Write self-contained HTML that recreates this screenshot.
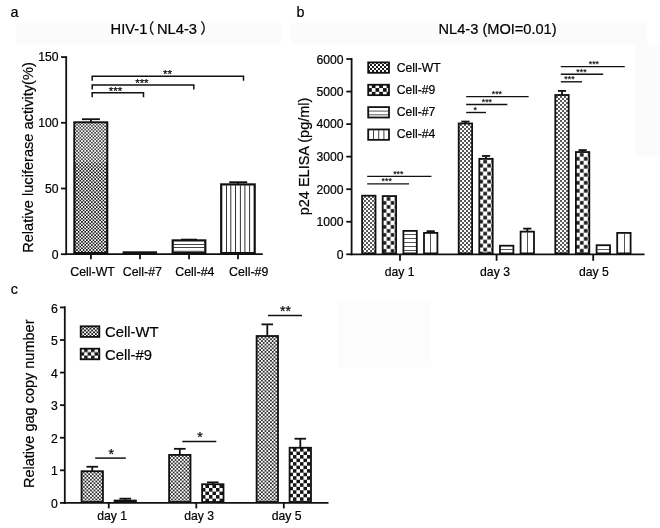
<!DOCTYPE html>
<html><head><meta charset="utf-8"><style>
html,body{margin:0;padding:0;background:#fff;width:660px;height:528px;overflow:hidden}
svg{display:block}
text{font-family:"Liberation Sans","Noto Sans CJK SC",Arial,sans-serif;fill:#000;stroke:#000;stroke-width:0.2px}
</style></head><body>
<svg width="660" height="528" viewBox="0 0 660 528">
<defs>
<pattern id="dotsA" patternUnits="userSpaceOnUse" x="74.5" y="0" width="3.3" height="3.3"><rect width="3.3" height="3.3" fill="#fff"/><rect x="0.000" y="0.000" width="1.65" height="1.65" fill="#1a1a1a"/><rect x="1.650" y="1.650" width="1.65" height="1.65" fill="#1a1a1a"/></pattern>
<pattern id="dotsA2" patternUnits="userSpaceOnUse" x="74.5" y="0" width="3.3" height="3.3"><rect width="3.3" height="3.3" fill="#fff"/><rect x="0.075" y="0.075" width="1.5" height="1.5" fill="#1a1a1a"/><rect x="1.725" y="1.725" width="1.5" height="1.5" fill="#1a1a1a"/></pattern>
<pattern id="dotsB" patternUnits="userSpaceOnUse" x="0" y="0" width="4.0" height="4.0"><rect width="4.0" height="4.0" fill="#fff"/><rect x="0.150" y="0.150" width="1.7" height="1.7" fill="#1a1a1a"/><rect x="2.150" y="2.150" width="1.7" height="1.7" fill="#1a1a1a"/></pattern>
<pattern id="dotsBL" patternUnits="userSpaceOnUse" x="368" y="62" width="4.0" height="4.0"><rect width="4.0" height="4.0" fill="#fff"/><rect x="0.000" y="0.000" width="2.0" height="2.0" fill="#1a1a1a"/><rect x="2.000" y="2.000" width="2.0" height="2.0" fill="#1a1a1a"/></pattern>
<pattern id="dotsC" patternUnits="userSpaceOnUse" x="0" y="0" width="3.6" height="3.6"><rect width="3.6" height="3.6" fill="#fff"/><rect x="0.050" y="0.050" width="1.7" height="1.7" fill="#1a1a1a"/><rect x="1.850" y="1.850" width="1.7" height="1.7" fill="#1a1a1a"/></pattern>
<pattern id="dotsCL" patternUnits="userSpaceOnUse" x="80.5" y="326" width="3.6" height="3.6"><rect width="3.6" height="3.6" fill="#fff"/><rect x="0.000" y="0.000" width="1.8" height="1.8" fill="#1a1a1a"/><rect x="1.800" y="1.800" width="1.8" height="1.8" fill="#1a1a1a"/></pattern>
<pattern id="checksB" patternUnits="userSpaceOnUse" x="0" y="0" width="8.0" height="8.0"><rect width="8.0" height="8.0" fill="#fff"/><rect x="0.200" y="0.200" width="3.6" height="3.6" fill="#161616"/><rect x="4.200" y="4.200" width="3.6" height="3.6" fill="#161616"/></pattern>
<pattern id="checksBL" patternUnits="userSpaceOnUse" x="371.8" y="84.4" width="7.4" height="7.4"><rect width="7.4" height="7.4" fill="#fff"/><rect x="0.000" y="0.000" width="3.7" height="3.7" fill="#161616"/><rect x="3.700" y="3.700" width="3.7" height="3.7" fill="#161616"/></pattern>
<pattern id="checksC" patternUnits="userSpaceOnUse" x="0" y="0" width="7.1" height="7.1"><rect width="7.1" height="7.1" fill="#fff"/><rect x="0.000" y="0.000" width="3.55" height="3.55" fill="#161616"/><rect x="3.550" y="3.550" width="3.55" height="3.55" fill="#161616"/></pattern>
<pattern id="checksCL" patternUnits="userSpaceOnUse" x="84.2" y="348.7" width="6.9" height="6.9"><rect width="6.9" height="6.9" fill="#fff"/><rect x="0.000" y="0.000" width="3.45" height="3.45" fill="#161616"/><rect x="3.450" y="3.450" width="3.45" height="3.45" fill="#161616"/></pattern>
<pattern id="bc1" patternUnits="userSpaceOnUse" x="386.55" y="196.889" width="8.0" height="8.0"><rect width="8.0" height="8.0" fill="#fff"/><rect x="0.200" y="0.200" width="3.6" height="3.6" fill="#161616"/><rect x="4.200" y="4.200" width="3.6" height="3.6" fill="#161616"/></pattern>
<pattern id="bc2" patternUnits="userSpaceOnUse" x="483.15" y="159.619" width="8.0" height="8.0"><rect width="8.0" height="8.0" fill="#fff"/><rect x="0.200" y="0.200" width="3.6" height="3.6" fill="#161616"/><rect x="4.200" y="4.200" width="3.6" height="3.6" fill="#161616"/></pattern>
<pattern id="bc3" patternUnits="userSpaceOnUse" x="579.75" y="152.817" width="8.0" height="8.0"><rect width="8.0" height="8.0" fill="#fff"/><rect x="0.200" y="0.200" width="3.6" height="3.6" fill="#161616"/><rect x="4.200" y="4.200" width="3.6" height="3.6" fill="#161616"/></pattern>
<pattern id="bc4" patternUnits="userSpaceOnUse" x="117.87" y="500.842" width="7.04" height="7.04"><rect width="7.04" height="7.04" fill="#fff"/><rect x="0.000" y="0.000" width="3.52" height="3.52" fill="#161616"/><rect x="3.520" y="3.520" width="3.52" height="3.52" fill="#161616"/></pattern>
<pattern id="bc5" patternUnits="userSpaceOnUse" x="205.42" y="484.552" width="7.04" height="7.04"><rect width="7.04" height="7.04" fill="#fff"/><rect x="0.000" y="0.000" width="3.52" height="3.52" fill="#161616"/><rect x="3.520" y="3.520" width="3.52" height="3.52" fill="#161616"/></pattern>
<pattern id="bc6" patternUnits="userSpaceOnUse" x="292.92" y="448.062" width="7.04" height="7.04"><rect width="7.04" height="7.04" fill="#fff"/><rect x="0.000" y="0.000" width="3.52" height="3.52" fill="#161616"/><rect x="3.520" y="3.520" width="3.52" height="3.52" fill="#161616"/></pattern>
</defs>

<rect x="16" y="23.2" width="265" height="21.3" fill="#fbfbfb"/>
<rect x="290.5" y="23.2" width="356.5" height="21.3" fill="#fbfbfb"/>
<rect x="635" y="45" width="25" height="111" fill="#fbfbfb"/>
<rect x="338" y="301" width="93" height="66" fill="#fcfcfc"/>

<text x="10.60" y="17.40" font-size="14.3" text-anchor="start">a</text>
<text y="34" font-size="14.7"><tspan x="110.6">HIV-1</tspan><tspan x="139.7">（</tspan><tspan x="157.0">NL4-3</tspan><tspan x="200.2">）</tspan></text>
<line x1="66.20" y1="56.20" x2="66.20" y2="255.10" stroke="#111" stroke-width="1.8"/>
<line x1="61.00" y1="254.20" x2="66.20" y2="254.20" stroke="#111" stroke-width="1.8"/>
<text x="58.60" y="258.50" font-size="12.2" text-anchor="end">0</text>
<line x1="61.00" y1="188.50" x2="66.20" y2="188.50" stroke="#111" stroke-width="1.8"/>
<text x="58.60" y="192.80" font-size="12.2" text-anchor="end">50</text>
<line x1="61.00" y1="122.80" x2="66.20" y2="122.80" stroke="#111" stroke-width="1.8"/>
<text x="58.60" y="127.10" font-size="12.2" text-anchor="end">100</text>
<line x1="61.00" y1="57.10" x2="66.20" y2="57.10" stroke="#111" stroke-width="1.8"/>
<text x="58.60" y="61.00" font-size="12.2" text-anchor="end">150</text>
<line x1="65.30" y1="254.20" x2="262.80" y2="254.20" stroke="#111" stroke-width="1.8"/>
<line x1="90.90" y1="122.00" x2="90.90" y2="119.20" stroke="#111" stroke-width="1.8"/>
<line x1="81.90" y1="119.20" x2="99.90" y2="119.20" stroke="#111" stroke-width="1.8"/>
<rect x="74.40" y="122.40" width="32.80" height="130.70" fill="url(#dotsA)" stroke="#111" stroke-width="2.2"/>
<rect x="75.4" y="123.4" width="30.8" height="39.2" fill="url(#dotsA2)"/>
<rect x="123.35" y="252.05" width="32.90" height="1.90" fill="#111" stroke="#111" stroke-width="1.5"/>
<line x1="181.00" y1="239.60" x2="197.00" y2="239.60" stroke="#111" stroke-width="1.8"/>
<rect x="172.70" y="240.40" width="32.60" height="12.70" fill="#fff"/>
<line x1="173.58" y1="244.50" x2="204.42" y2="244.50" stroke="#444" stroke-width="1.0"/>
<line x1="173.58" y1="247.50" x2="204.42" y2="247.50" stroke="#444" stroke-width="1.0"/>
<line x1="173.58" y1="251.30" x2="204.42" y2="251.30" stroke="#444" stroke-width="1.0"/>
<rect x="172.70" y="240.40" width="32.60" height="12.70" fill="none" stroke="#111" stroke-width="2.2"/>
<line x1="238.20" y1="184.50" x2="238.20" y2="182.20" stroke="#111" stroke-width="1.8"/>
<line x1="229.20" y1="182.20" x2="247.20" y2="182.20" stroke="#111" stroke-width="1.8"/>
<rect x="221.20" y="184.40" width="33.50" height="68.70" fill="#fff"/>
<line x1="226.50" y1="185.28" x2="226.50" y2="253.10" stroke="#333" stroke-width="1.0"/>
<line x1="230.80" y1="185.28" x2="230.80" y2="253.10" stroke="#333" stroke-width="1.0"/>
<line x1="235.50" y1="185.28" x2="235.50" y2="253.10" stroke="#333" stroke-width="1.0"/>
<line x1="240.40" y1="185.28" x2="240.40" y2="253.10" stroke="#333" stroke-width="1.0"/>
<line x1="244.90" y1="185.28" x2="244.90" y2="253.10" stroke="#333" stroke-width="1.0"/>
<line x1="249.60" y1="185.28" x2="249.60" y2="253.10" stroke="#333" stroke-width="1.0"/>
<rect x="221.20" y="184.40" width="33.50" height="68.70" fill="none" stroke="#111" stroke-width="2.2"/>
<line x1="90.90" y1="254.20" x2="90.90" y2="259.20" stroke="#111" stroke-width="1.8"/>
<text x="70.20" y="275.90" font-size="12.4" text-anchor="start">Cell-WT</text>
<line x1="140.00" y1="254.20" x2="140.00" y2="259.20" stroke="#111" stroke-width="1.8"/>
<text x="122.70" y="275.90" font-size="12.4" text-anchor="start">Cell-#7</text>
<line x1="189.00" y1="254.20" x2="189.00" y2="259.20" stroke="#111" stroke-width="1.8"/>
<text x="175.20" y="275.90" font-size="12.4" text-anchor="start">Cell-#4</text>
<line x1="238.00" y1="254.20" x2="238.00" y2="259.20" stroke="#111" stroke-width="1.8"/>
<text x="229.10" y="275.90" font-size="12.4" text-anchor="start">Cell-#9</text>
<path d="M92.2 80.80 V76.3 H243.5 V80.80" fill="none" stroke="#111" stroke-width="1.5"/>
<text x="167.45" y="78.00" font-size="11.5" text-anchor="middle">**</text>
<path d="M92.2 89.60 V85.1 H193.8 V89.60" fill="none" stroke="#111" stroke-width="1.5"/>
<text x="141.90" y="86.80" font-size="11.5" text-anchor="middle">***</text>
<path d="M92.2 97.30 V92.8 H143.5 V97.30" fill="none" stroke="#111" stroke-width="1.5"/>
<text x="115.45" y="94.50" font-size="11.5" text-anchor="middle">***</text>
<text transform="translate(33.3 252.8) rotate(-90)" font-size="14.6">Relative luciferase activity(%)</text>
<text x="296.40" y="17.30" font-size="14.3" text-anchor="start">b</text>
<text x="497.60" y="33.80" font-size="14.6" text-anchor="middle">NL4-3 (MOI=0.01)</text>
<line x1="351.60" y1="58.00" x2="351.60" y2="255.20" stroke="#111" stroke-width="1.8"/>
<line x1="346.30" y1="254.30" x2="351.60" y2="254.30" stroke="#111" stroke-width="1.8"/>
<text x="343.50" y="258.60" font-size="12.2" text-anchor="end">0</text>
<line x1="346.30" y1="221.75" x2="351.60" y2="221.75" stroke="#111" stroke-width="1.8"/>
<text x="343.50" y="226.05" font-size="12.2" text-anchor="end">1000</text>
<line x1="346.30" y1="189.20" x2="351.60" y2="189.20" stroke="#111" stroke-width="1.8"/>
<text x="343.50" y="193.50" font-size="12.2" text-anchor="end">2000</text>
<line x1="346.30" y1="156.65" x2="351.60" y2="156.65" stroke="#111" stroke-width="1.8"/>
<text x="343.50" y="160.95" font-size="12.2" text-anchor="end">3000</text>
<line x1="346.30" y1="124.10" x2="351.60" y2="124.10" stroke="#111" stroke-width="1.8"/>
<text x="343.50" y="128.40" font-size="12.2" text-anchor="end">4000</text>
<line x1="346.30" y1="91.55" x2="351.60" y2="91.55" stroke="#111" stroke-width="1.8"/>
<text x="343.50" y="95.85" font-size="12.2" text-anchor="end">5000</text>
<line x1="346.30" y1="59.00" x2="351.60" y2="59.00" stroke="#111" stroke-width="1.8"/>
<text x="343.50" y="64.10" font-size="12.2" text-anchor="end">6000</text>
<line x1="350.70" y1="254.30" x2="644.60" y2="254.30" stroke="#111" stroke-width="1.8"/>
<line x1="400.00" y1="254.30" x2="400.00" y2="260.80" stroke="#111" stroke-width="1.8"/>
<text x="384.70" y="275.80" font-size="12.2" text-anchor="start">day 1</text>
<rect x="362.10" y="195.70" width="13.40" height="57.70" fill="url(#dotsB)" stroke="#111" stroke-width="1.8"/>
<rect x="382.70" y="196.09" width="13.40" height="57.31" fill="url(#bc1)" stroke="#111" stroke-width="1.8"/>
<rect x="403.40" y="230.89" width="13.40" height="22.51" fill="#fff"/>
<line x1="404.12" y1="234.50" x2="416.08" y2="234.50" stroke="#555" stroke-width="1.0"/>
<line x1="404.12" y1="238.50" x2="416.08" y2="238.50" stroke="#555" stroke-width="1.0"/>
<line x1="404.12" y1="242.50" x2="416.08" y2="242.50" stroke="#555" stroke-width="1.0"/>
<line x1="404.12" y1="246.50" x2="416.08" y2="246.50" stroke="#555" stroke-width="1.0"/>
<line x1="404.12" y1="250.50" x2="416.08" y2="250.50" stroke="#555" stroke-width="1.0"/>
<rect x="403.40" y="230.89" width="13.40" height="22.51" fill="none" stroke="#111" stroke-width="1.8"/>
<line x1="430.70" y1="232.50" x2="430.70" y2="231.19" stroke="#111" stroke-width="1.8"/>
<line x1="426.60" y1="231.19" x2="434.80" y2="231.19" stroke="#111" stroke-width="1.8"/>
<rect x="424.00" y="232.90" width="13.40" height="20.50" fill="#fff"/>
<line x1="430.50" y1="233.62" x2="430.50" y2="253.40" stroke="#555" stroke-width="1.0"/>
<rect x="424.00" y="232.90" width="13.40" height="20.50" fill="none" stroke="#111" stroke-width="1.8"/>
<line x1="496.60" y1="254.30" x2="496.60" y2="260.80" stroke="#111" stroke-width="1.8"/>
<text x="480.10" y="275.80" font-size="12.2" text-anchor="start">day 3</text>
<line x1="465.40" y1="123.04" x2="465.40" y2="121.56" stroke="#111" stroke-width="1.8"/>
<line x1="461.30" y1="121.56" x2="469.50" y2="121.56" stroke="#111" stroke-width="1.8"/>
<rect x="458.70" y="123.44" width="13.40" height="129.96" fill="url(#dotsB)" stroke="#111" stroke-width="1.8"/>
<line x1="486.00" y1="158.42" x2="486.00" y2="155.97" stroke="#111" stroke-width="1.8"/>
<line x1="481.90" y1="155.97" x2="490.10" y2="155.97" stroke="#111" stroke-width="1.8"/>
<rect x="479.30" y="158.82" width="13.40" height="94.58" fill="url(#bc2)" stroke="#111" stroke-width="1.8"/>
<rect x="500.00" y="245.70" width="13.40" height="7.70" fill="#fff"/>
<line x1="500.72" y1="249.50" x2="512.68" y2="249.50" stroke="#555" stroke-width="1.0"/>
<rect x="500.00" y="245.70" width="13.40" height="7.70" fill="none" stroke="#111" stroke-width="1.8"/>
<line x1="527.30" y1="231.23" x2="527.30" y2="228.62" stroke="#111" stroke-width="1.8"/>
<line x1="523.20" y1="228.62" x2="531.40" y2="228.62" stroke="#111" stroke-width="1.8"/>
<rect x="520.60" y="231.63" width="13.40" height="21.77" fill="#fff"/>
<line x1="527.50" y1="232.35" x2="527.50" y2="253.40" stroke="#555" stroke-width="1.0"/>
<rect x="520.60" y="231.63" width="13.40" height="21.77" fill="none" stroke="#111" stroke-width="1.8"/>
<line x1="593.20" y1="254.30" x2="593.20" y2="260.80" stroke="#111" stroke-width="1.8"/>
<text x="579.00" y="275.80" font-size="12.2" text-anchor="start">day 5</text>
<line x1="562.00" y1="94.59" x2="562.00" y2="90.90" stroke="#111" stroke-width="1.8"/>
<line x1="557.90" y1="90.90" x2="566.10" y2="90.90" stroke="#111" stroke-width="1.8"/>
<rect x="555.30" y="94.99" width="13.40" height="158.41" fill="url(#dotsB)" stroke="#111" stroke-width="1.8"/>
<line x1="582.60" y1="151.62" x2="582.60" y2="150.07" stroke="#111" stroke-width="1.8"/>
<line x1="578.50" y1="150.07" x2="586.70" y2="150.07" stroke="#111" stroke-width="1.8"/>
<rect x="575.90" y="152.02" width="13.40" height="101.38" fill="url(#bc3)" stroke="#111" stroke-width="1.8"/>
<rect x="596.60" y="245.21" width="13.40" height="8.19" fill="#fff"/>
<line x1="597.32" y1="249.50" x2="609.28" y2="249.50" stroke="#555" stroke-width="1.0"/>
<rect x="596.60" y="245.21" width="13.40" height="8.19" fill="none" stroke="#111" stroke-width="1.8"/>
<rect x="617.20" y="232.90" width="13.40" height="20.50" fill="#fff"/>
<line x1="624.50" y1="233.62" x2="624.50" y2="253.40" stroke="#555" stroke-width="1.0"/>
<rect x="617.20" y="232.90" width="13.40" height="20.50" fill="none" stroke="#111" stroke-width="1.8"/>
<line x1="367.20" y1="176.40" x2="431.40" y2="176.40" stroke="#111" stroke-width="1.4"/>
<text x="398.30" y="176.90" font-size="8.8" text-anchor="middle" style="stroke-width:0.15px">***</text>
<line x1="367.20" y1="183.90" x2="409.00" y2="183.90" stroke="#111" stroke-width="1.4"/>
<text x="386.70" y="184.40" font-size="8.8" text-anchor="middle" style="stroke-width:0.15px">***</text>
<line x1="466.20" y1="96.60" x2="528.60" y2="96.60" stroke="#111" stroke-width="1.4"/>
<text x="496.90" y="97.10" font-size="8.8" text-anchor="middle" style="stroke-width:0.15px">***</text>
<line x1="466.20" y1="104.50" x2="507.40" y2="104.50" stroke="#111" stroke-width="1.4"/>
<text x="486.90" y="105.00" font-size="8.8" text-anchor="middle" style="stroke-width:0.15px">***</text>
<line x1="466.20" y1="112.50" x2="486.00" y2="112.50" stroke="#111" stroke-width="1.4"/>
<text x="475.20" y="113.00" font-size="8.8" text-anchor="middle" style="stroke-width:0.15px">*</text>
<line x1="560.80" y1="66.60" x2="624.80" y2="66.60" stroke="#111" stroke-width="1.4"/>
<text x="593.90" y="67.10" font-size="8.8" text-anchor="middle" style="stroke-width:0.15px">***</text>
<line x1="560.80" y1="74.20" x2="603.20" y2="74.20" stroke="#111" stroke-width="1.4"/>
<text x="581.45" y="74.70" font-size="8.8" text-anchor="middle" style="stroke-width:0.15px">***</text>
<line x1="560.80" y1="81.80" x2="582.00" y2="81.80" stroke="#111" stroke-width="1.4"/>
<text x="569.50" y="82.30" font-size="8.8" text-anchor="middle" style="stroke-width:0.15px">***</text>
<rect x="368.20" y="62.40" width="20.80" height="10.40" fill="url(#dotsBL)" stroke="#111" stroke-width="1.8"/>
<text x="396.70" y="71.70" font-size="12.2" text-anchor="start">Cell-WT</text>
<rect x="368.20" y="84.75" width="20.80" height="10.40" fill="url(#checksBL)" stroke="#111" stroke-width="1.8"/>
<text x="396.70" y="93.65" font-size="12.2" text-anchor="start">Cell-#9</text>
<rect x="368.20" y="107.10" width="20.80" height="10.40" fill="#fff"/>
<line x1="368.92" y1="111.10" x2="388.28" y2="111.10" stroke="#555" stroke-width="1.0"/>
<line x1="368.92" y1="114.80" x2="388.28" y2="114.80" stroke="#555" stroke-width="1.0"/>
<rect x="368.20" y="107.10" width="20.80" height="10.40" fill="none" stroke="#111" stroke-width="1.8"/>
<text x="396.70" y="115.60" font-size="12.2" text-anchor="start">Cell-#7</text>
<rect x="368.20" y="129.45" width="20.80" height="10.40" fill="#fff"/>
<line x1="373.50" y1="130.17" x2="373.50" y2="139.85" stroke="#444" stroke-width="1.0"/>
<line x1="378.70" y1="130.17" x2="378.70" y2="139.85" stroke="#444" stroke-width="1.0"/>
<line x1="383.90" y1="130.17" x2="383.90" y2="139.85" stroke="#444" stroke-width="1.0"/>
<rect x="368.20" y="129.45" width="20.80" height="10.40" fill="none" stroke="#111" stroke-width="1.8"/>
<text x="396.70" y="137.55" font-size="12.2" text-anchor="start">Cell-#4</text>
<text transform="translate(309.1 215.3) rotate(-90)" font-size="14.5">p24 ELISA (pg/ml)</text>
<text x="10.80" y="293.90" font-size="14.3" text-anchor="start">c</text>
<line x1="64.80" y1="306.30" x2="64.80" y2="503.80" stroke="#111" stroke-width="1.8"/>
<line x1="60.00" y1="502.90" x2="64.80" y2="502.90" stroke="#111" stroke-width="1.8"/>
<text x="57.70" y="508.00" font-size="12.2" text-anchor="end">0</text>
<line x1="60.00" y1="470.32" x2="64.80" y2="470.32" stroke="#111" stroke-width="1.8"/>
<text x="57.70" y="475.42" font-size="12.2" text-anchor="end">1</text>
<line x1="60.00" y1="437.74" x2="64.80" y2="437.74" stroke="#111" stroke-width="1.8"/>
<text x="57.70" y="442.84" font-size="12.2" text-anchor="end">2</text>
<line x1="60.00" y1="405.16" x2="64.80" y2="405.16" stroke="#111" stroke-width="1.8"/>
<text x="57.70" y="410.26" font-size="12.2" text-anchor="end">3</text>
<line x1="60.00" y1="372.58" x2="64.80" y2="372.58" stroke="#111" stroke-width="1.8"/>
<text x="57.70" y="377.68" font-size="12.2" text-anchor="end">4</text>
<line x1="60.00" y1="340.00" x2="64.80" y2="340.00" stroke="#111" stroke-width="1.8"/>
<text x="57.70" y="345.10" font-size="12.2" text-anchor="end">5</text>
<line x1="60.00" y1="307.42" x2="64.80" y2="307.42" stroke="#111" stroke-width="1.8"/>
<text x="57.70" y="312.52" font-size="12.2" text-anchor="end">6</text>
<line x1="63.90" y1="502.90" x2="328.50" y2="502.90" stroke="#111" stroke-width="1.8"/>
<line x1="108.75" y1="502.90" x2="108.75" y2="508.40" stroke="#111" stroke-width="1.8"/>
<text x="112.15" y="520.00" font-size="12.2" text-anchor="middle">day 1</text>
<line x1="92.25" y1="470.82" x2="92.25" y2="466.74" stroke="#111" stroke-width="1.8"/>
<line x1="86.45" y1="466.74" x2="98.05" y2="466.74" stroke="#111" stroke-width="1.8"/>
<rect x="81.55" y="471.22" width="21.40" height="30.78" fill="url(#dotsC)" stroke="#111" stroke-width="1.8"/>
<line x1="125.25" y1="500.14" x2="125.25" y2="498.66" stroke="#111" stroke-width="1.8"/>
<line x1="119.45" y1="498.66" x2="131.05" y2="498.66" stroke="#111" stroke-width="1.8"/>
<rect x="114.55" y="500.54" width="21.40" height="1.46" fill="url(#bc4)" stroke="#111" stroke-width="1.8"/>
<line x1="196.30" y1="502.90" x2="196.30" y2="508.40" stroke="#111" stroke-width="1.8"/>
<text x="199.10" y="520.00" font-size="12.2" text-anchor="middle">day 3</text>
<line x1="179.80" y1="454.53" x2="179.80" y2="448.82" stroke="#111" stroke-width="1.8"/>
<line x1="174.00" y1="448.82" x2="185.60" y2="448.82" stroke="#111" stroke-width="1.8"/>
<rect x="169.10" y="454.93" width="21.40" height="47.07" fill="url(#dotsC)" stroke="#111" stroke-width="1.8"/>
<line x1="212.80" y1="483.85" x2="212.80" y2="482.37" stroke="#111" stroke-width="1.8"/>
<line x1="207.00" y1="482.37" x2="218.60" y2="482.37" stroke="#111" stroke-width="1.8"/>
<rect x="202.10" y="484.25" width="21.40" height="17.75" fill="url(#bc5)" stroke="#111" stroke-width="1.8"/>
<line x1="283.80" y1="502.90" x2="283.80" y2="508.40" stroke="#111" stroke-width="1.8"/>
<text x="286.60" y="520.00" font-size="12.2" text-anchor="middle">day 5</text>
<line x1="267.30" y1="335.61" x2="267.30" y2="324.36" stroke="#111" stroke-width="1.8"/>
<line x1="261.50" y1="324.36" x2="273.10" y2="324.36" stroke="#111" stroke-width="1.8"/>
<rect x="256.60" y="336.01" width="21.40" height="165.99" fill="url(#dotsC)" stroke="#111" stroke-width="1.8"/>
<line x1="300.30" y1="447.36" x2="300.30" y2="438.72" stroke="#111" stroke-width="1.8"/>
<line x1="294.50" y1="438.72" x2="306.10" y2="438.72" stroke="#111" stroke-width="1.8"/>
<rect x="289.60" y="447.76" width="21.40" height="54.24" fill="url(#bc6)" stroke="#111" stroke-width="1.8"/>
<line x1="95.20" y1="458.10" x2="125.80" y2="458.10" stroke="#111" stroke-width="1.5"/>
<text x="111.20" y="459.10" font-size="14" text-anchor="middle">*</text>
<line x1="182.30" y1="441.50" x2="216.30" y2="441.50" stroke="#111" stroke-width="1.5"/>
<text x="200.00" y="441.85" font-size="14" text-anchor="middle">*</text>
<line x1="268.00" y1="315.50" x2="302.00" y2="315.50" stroke="#111" stroke-width="1.5"/>
<text x="285.40" y="315.85" font-size="14" text-anchor="middle">**</text>
<rect x="80.70" y="326.30" width="18.60" height="10.60" fill="url(#dotsCL)" stroke="#111" stroke-width="1.8"/>
<text x="105.00" y="337.10" font-size="14.8" text-anchor="start">Cell-WT</text>
<rect x="80.70" y="348.70" width="18.60" height="10.60" fill="url(#checksCL)" stroke="#111" stroke-width="1.8"/>
<text x="105.00" y="359.50" font-size="14.8" text-anchor="start">Cell-#9</text>
<text transform="translate(33.6 488.0) rotate(-90)" font-size="14.5">Relative gag copy number</text>
</svg>
</body></html>
